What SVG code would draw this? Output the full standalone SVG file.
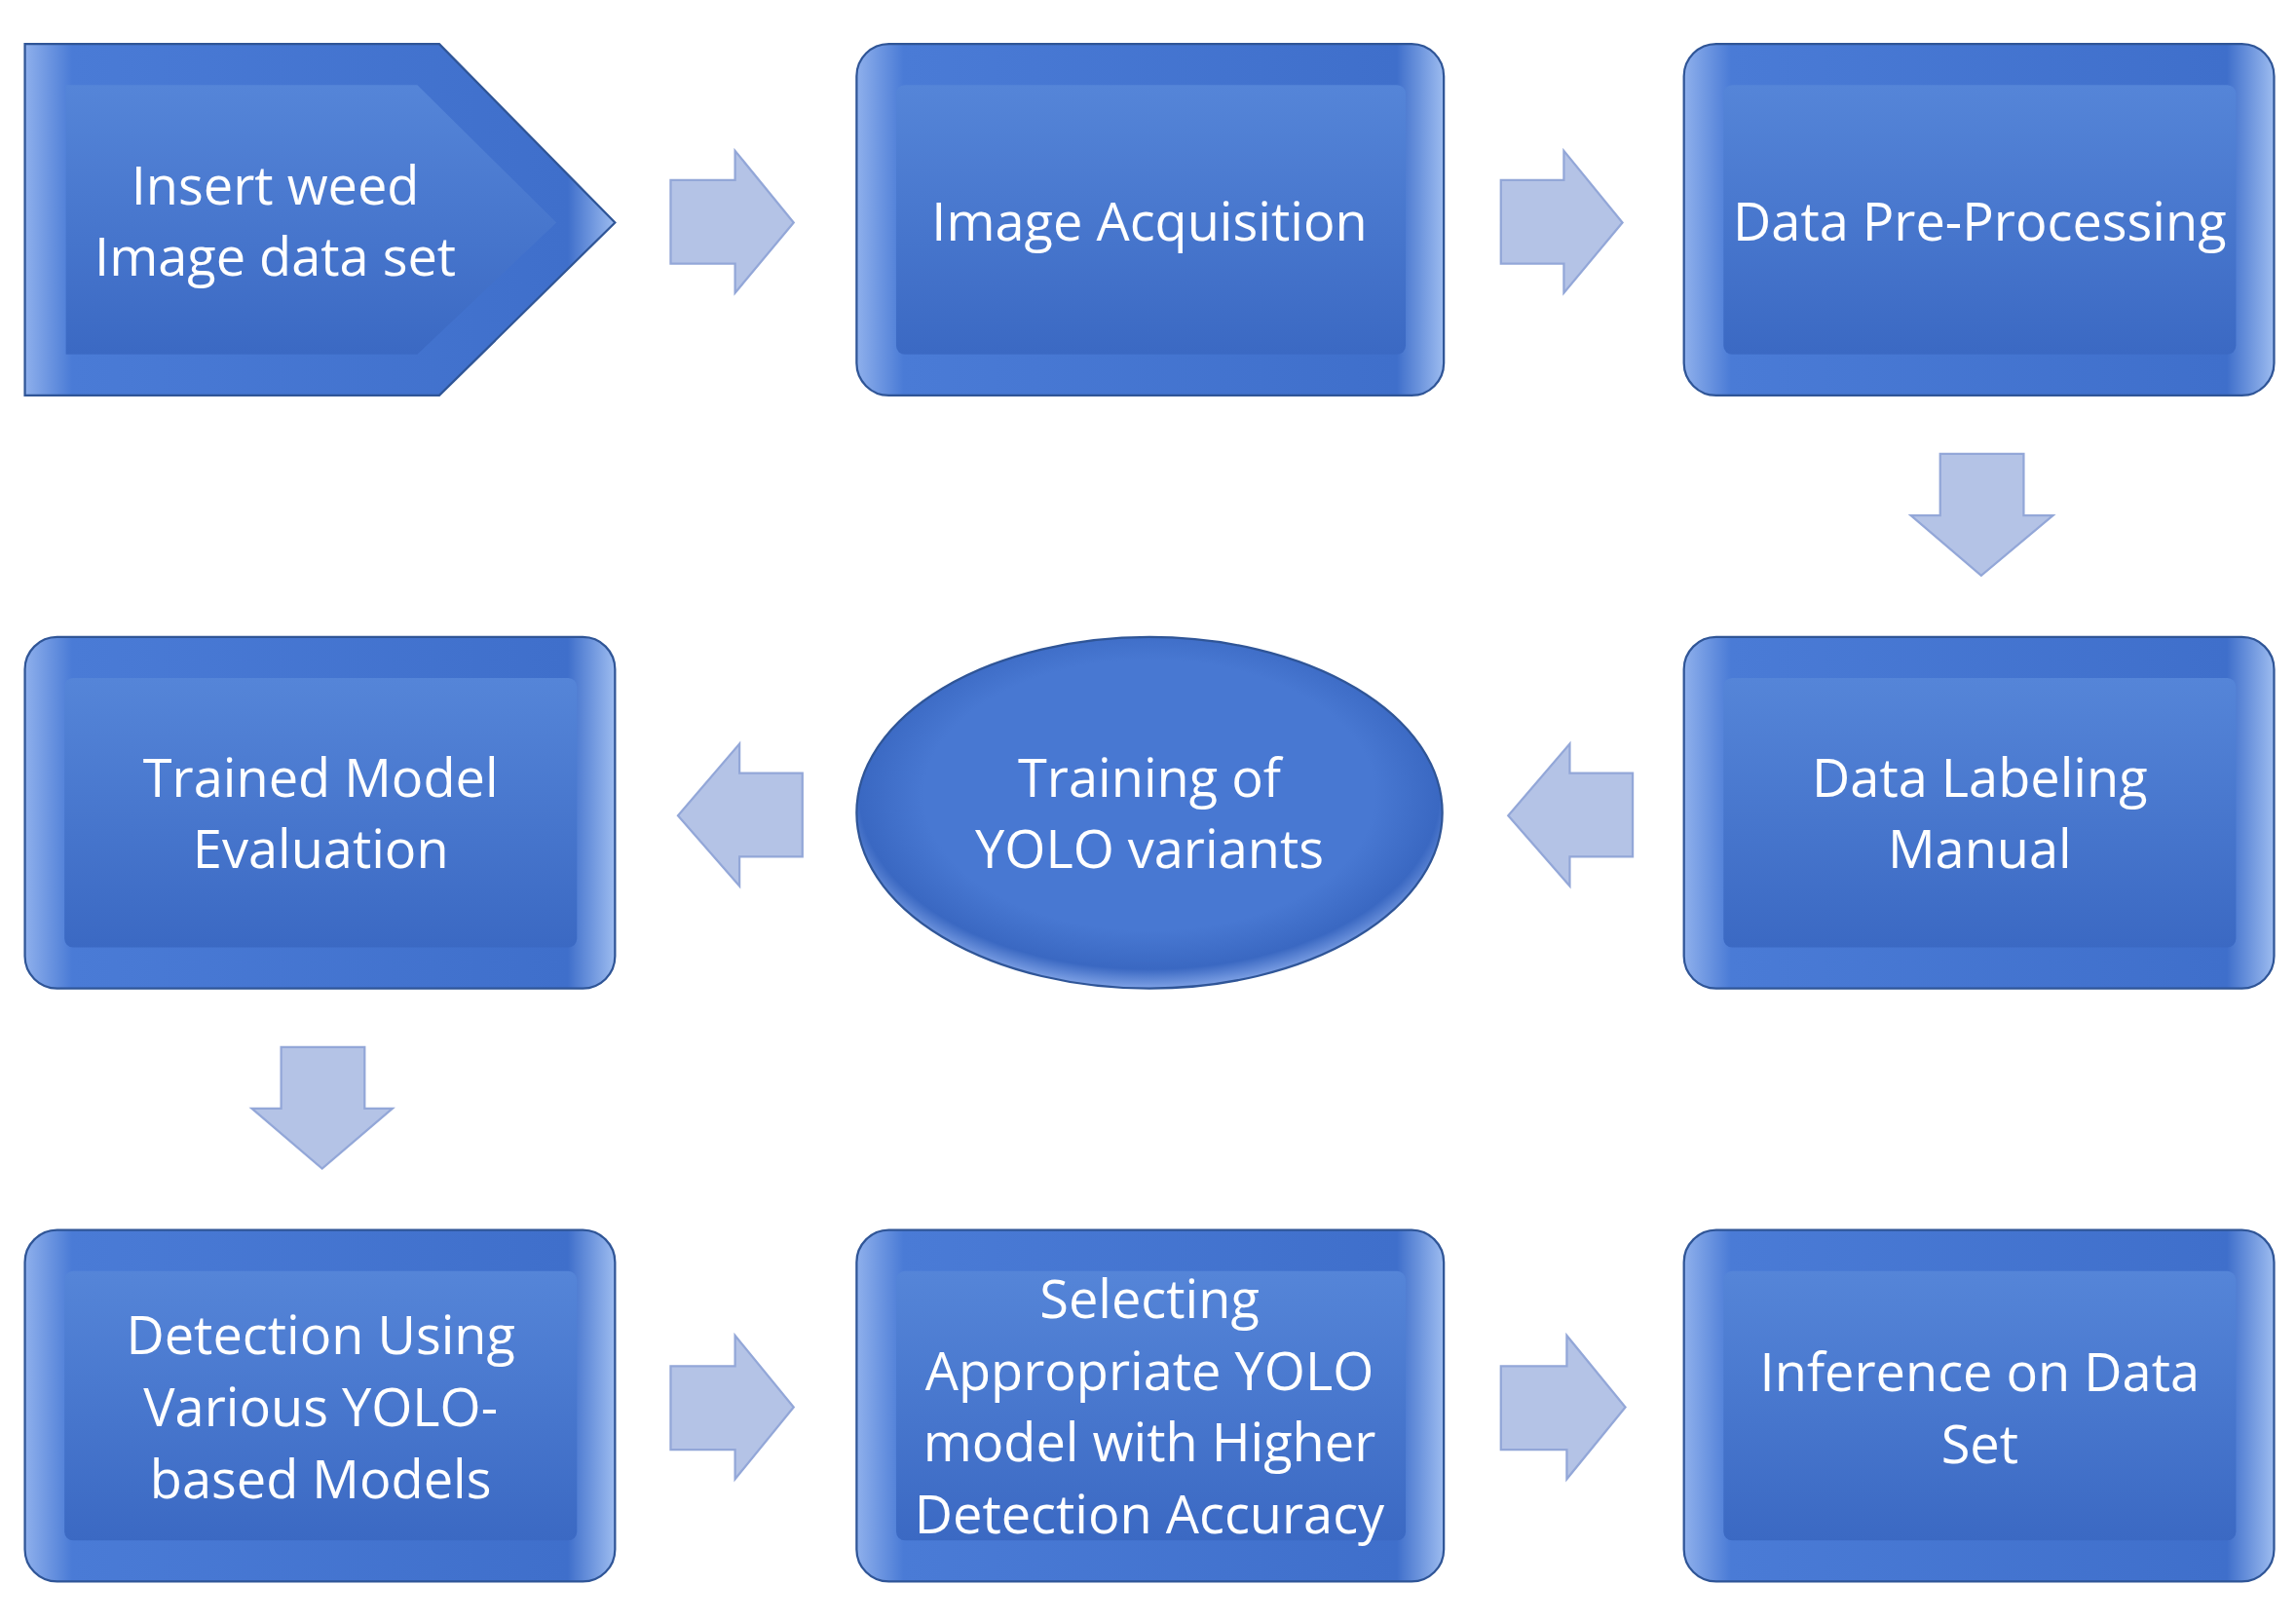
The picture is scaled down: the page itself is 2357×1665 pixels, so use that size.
<svg xmlns="http://www.w3.org/2000/svg" width="2357" height="1665" viewBox="0 0 2357 1665">
<style>
.box{fill:url(#edge);stroke:#2F5597;stroke-width:1.5}
.in{fill:url(#face)}
.t{font-family:"Open Sans","Liberation Sans",sans-serif;font-size:36px;fill:#fff;text-anchor:middle}
.ar{fill:#B4C3E6;stroke:#93A7D8;stroke-width:1.5}
</style>
<defs>
<linearGradient id="edge" x1="0" y1="0" x2="1" y2="0">
<stop offset="0" stop-color="#8FB0EC"/><stop offset="0.08" stop-color="#4A7BD6"/><stop offset="0.92" stop-color="#3F6FCB"/><stop offset="1" stop-color="#9DBCF0"/>
</linearGradient>
<linearGradient id="face" x1="0" y1="0" x2="0" y2="1">
<stop offset="0" stop-color="#5585D8"/><stop offset="1" stop-color="#3B69C3"/>
</linearGradient>
<radialGradient id="ell" cx="0.5" cy="0.45" r="0.55">
<stop offset="0.7" stop-color="#4878D2"/><stop offset="0.9" stop-color="#3A68C2"/><stop offset="1" stop-color="#7FA2E6"/>
</radialGradient>
</defs>
<rect width="2357" height="1665" fill="#fff"/>
<g transform="scale(1.5032)">
<g id="n1"><path class="box" d="M17,30 H300 L420,152 L300,270 H17 Z"/><path class="in" d="M45,58 H285 L380,152 L285,242 H45 Z"/>
<text class="t" x="188" y="140">Insert weed</text><text class="t" x="188" y="188">Image data set</text></g>
<g id="n2"><rect class="box" x="585" y="30" width="401" height="240" rx="22"/><rect class="in" x="612" y="58" width="348" height="184" rx="6"/>
<text class="t" x="785" y="164">Image  Acquisition</text></g>
<g id="n3"><rect class="box" x="1150" y="30" width="403" height="240" rx="22"/><rect class="in" x="1177" y="58" width="350" height="184" rx="6"/>
<text class="t" x="1352" y="164">Data Pre-Processing</text></g>
<g id="n4"><rect class="box" x="1150" y="435" width="403" height="240" rx="22"/><rect class="in" x="1177" y="463" width="350" height="184" rx="6"/>
<text class="t" x="1352" y="544">Data Labeling</text><text class="t" x="1352" y="593">Manual</text></g>
<g id="n5"><ellipse cx="785" cy="555" rx="200" ry="120" fill="url(#ell)" stroke="#2F5597" stroke-width="1.5"/>
<text class="t" x="785" y="544">Training of</text><text class="t" x="785" y="593">YOLO variants</text></g>
<g id="n6"><rect class="box" x="17" y="435" width="403" height="240" rx="22"/><rect class="in" x="44" y="463" width="350" height="184" rx="6"/>
<text class="t" x="219" y="544">Trained Model</text><text class="t" x="219" y="593">Evaluation</text></g>
<g id="n7"><rect class="box" x="17" y="840" width="403" height="240" rx="22"/><rect class="in" x="44" y="868" width="350" height="184" rx="6"/>
<text class="t" x="219" y="925">Detection Using</text><text class="t" x="219" y="974">Various YOLO-</text><text class="t" x="219" y="1023">based Models</text></g>
<g id="n8"><rect class="box" x="585" y="840" width="401" height="240" rx="22"/><rect class="in" x="612" y="868" width="348" height="184" rx="6"/>
<text class="t" x="785" y="900">Selecting</text><text class="t" x="785" y="949">Appropriate YOLO</text><text class="t" x="785" y="998">model with Higher</text><text class="t" x="785" y="1047">Detection Accuracy</text></g>
<g id="n9"><rect class="box" x="1150" y="840" width="403" height="240" rx="22"/><rect class="in" x="1177" y="868" width="350" height="184" rx="6"/>
<text class="t" x="1352" y="950">Inference on Data</text><text class="t" x="1352" y="999">Set</text></g>
<g id="connectors">
<path class="ar" d="M458,123 H502 V103 L542,152 L502,200 V180 H458 Z"/>
<path class="ar" d="M1025,123 H1068 V103 L1108,152 L1068,200 V180 H1025 Z"/>
<path class="ar" d="M1325,310 H1382 V352 H1402 L1353,393 L1305,352 H1325 Z"/>
<path class="ar" d="M1115,528 H1072 V508 L1030,557 L1072,605 V585 H1115 Z"/>
<path class="ar" d="M548,528 H505 V508 L463,557 L505,605 V585 H548 Z"/>
<path class="ar" d="M192,715 H249 V757 H268 L220,798 L172,757 H192 Z"/>
<path class="ar" d="M458,933 H502 V912 L542,961 L502,1010 V990 H458 Z"/>
<path class="ar" d="M1025,933 H1070 V912 L1110,961 L1070,1010 V990 H1025 Z"/>
</g>
</g>
</svg>
